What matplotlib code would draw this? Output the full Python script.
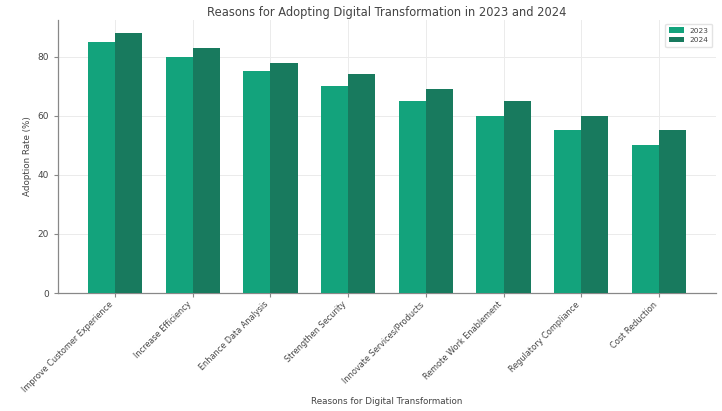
import matplotlib
matplotlib.use("Agg")
import matplotlib.pyplot as plt
import numpy as np

categories = ["Improve Customer Experience", "Increase Efficiency", "Enhance Data Analysis",
              "Strengthen Security", "Innovate Services/Products", "Remote Work Enablement",
              "Regulatory Compliance", "Cost Reduction"]
values_2023 = [85, 80, 75, 70, 65, 60, 55, 50]
values_2024 = [88, 83, 78, 74, 69, 65, 60, 55]
series_labels = ["2023", "2024"]

c23 = "#13a37c"
c24 = "#187a5e"
txt = "#444444"

fig = plt.figure(figsize=(7.22, 4.11), dpi=100)
ax = fig.add_axes([58/722, 1-293/411, (716-58)/722, (293-20)/411])
x = np.arange(len(categories))
w = 0.35
ax.bar(x - w/2, values_2023, w, color=c23, label=series_labels[0], zorder=3)
ax.bar(x + w/2, values_2024, w, color=c24, label=series_labels[1], zorder=3)

ax.set_xticks(x)
ax.set_xticklabels(categories, rotation=45, ha="right", fontsize=5.9, color=txt)
ax.tick_params(axis="y", labelsize=6.5, labelcolor=txt, color="#888888", length=3)
ax.tick_params(axis="x", color="#888888", length=3, pad=2)
ax.set_yticks([0, 20, 40, 60, 80])
ax.grid(True, color="#ebebeb", linewidth=0.7, zorder=0)
for s in ["top", "right"]:
    ax.spines[s].set_visible(False)
for s in ["left", "bottom"]:
    ax.spines[s].set_color("#888888")
    ax.spines[s].set_linewidth(0.9)

ax.set_title("Reasons for Adopting Digital Transformation in 2023 and 2024", fontsize=8.3, color=txt, pad=3)
ax.set_xlabel("Reasons for Digital Transformation", fontsize=6.3, color=txt, labelpad=2)
ax.set_ylabel("Adoption Rate (%)", fontsize=6.3, color=txt)
leg = ax.legend(loc="upper right", fontsize=5.3, frameon=True, handlelength=2, borderpad=0.5)
leg.get_frame().set_edgecolor("#dddddd")
for t in leg.get_texts():
    t.set_color(txt)

fig.savefig("out.png", dpi=100)
